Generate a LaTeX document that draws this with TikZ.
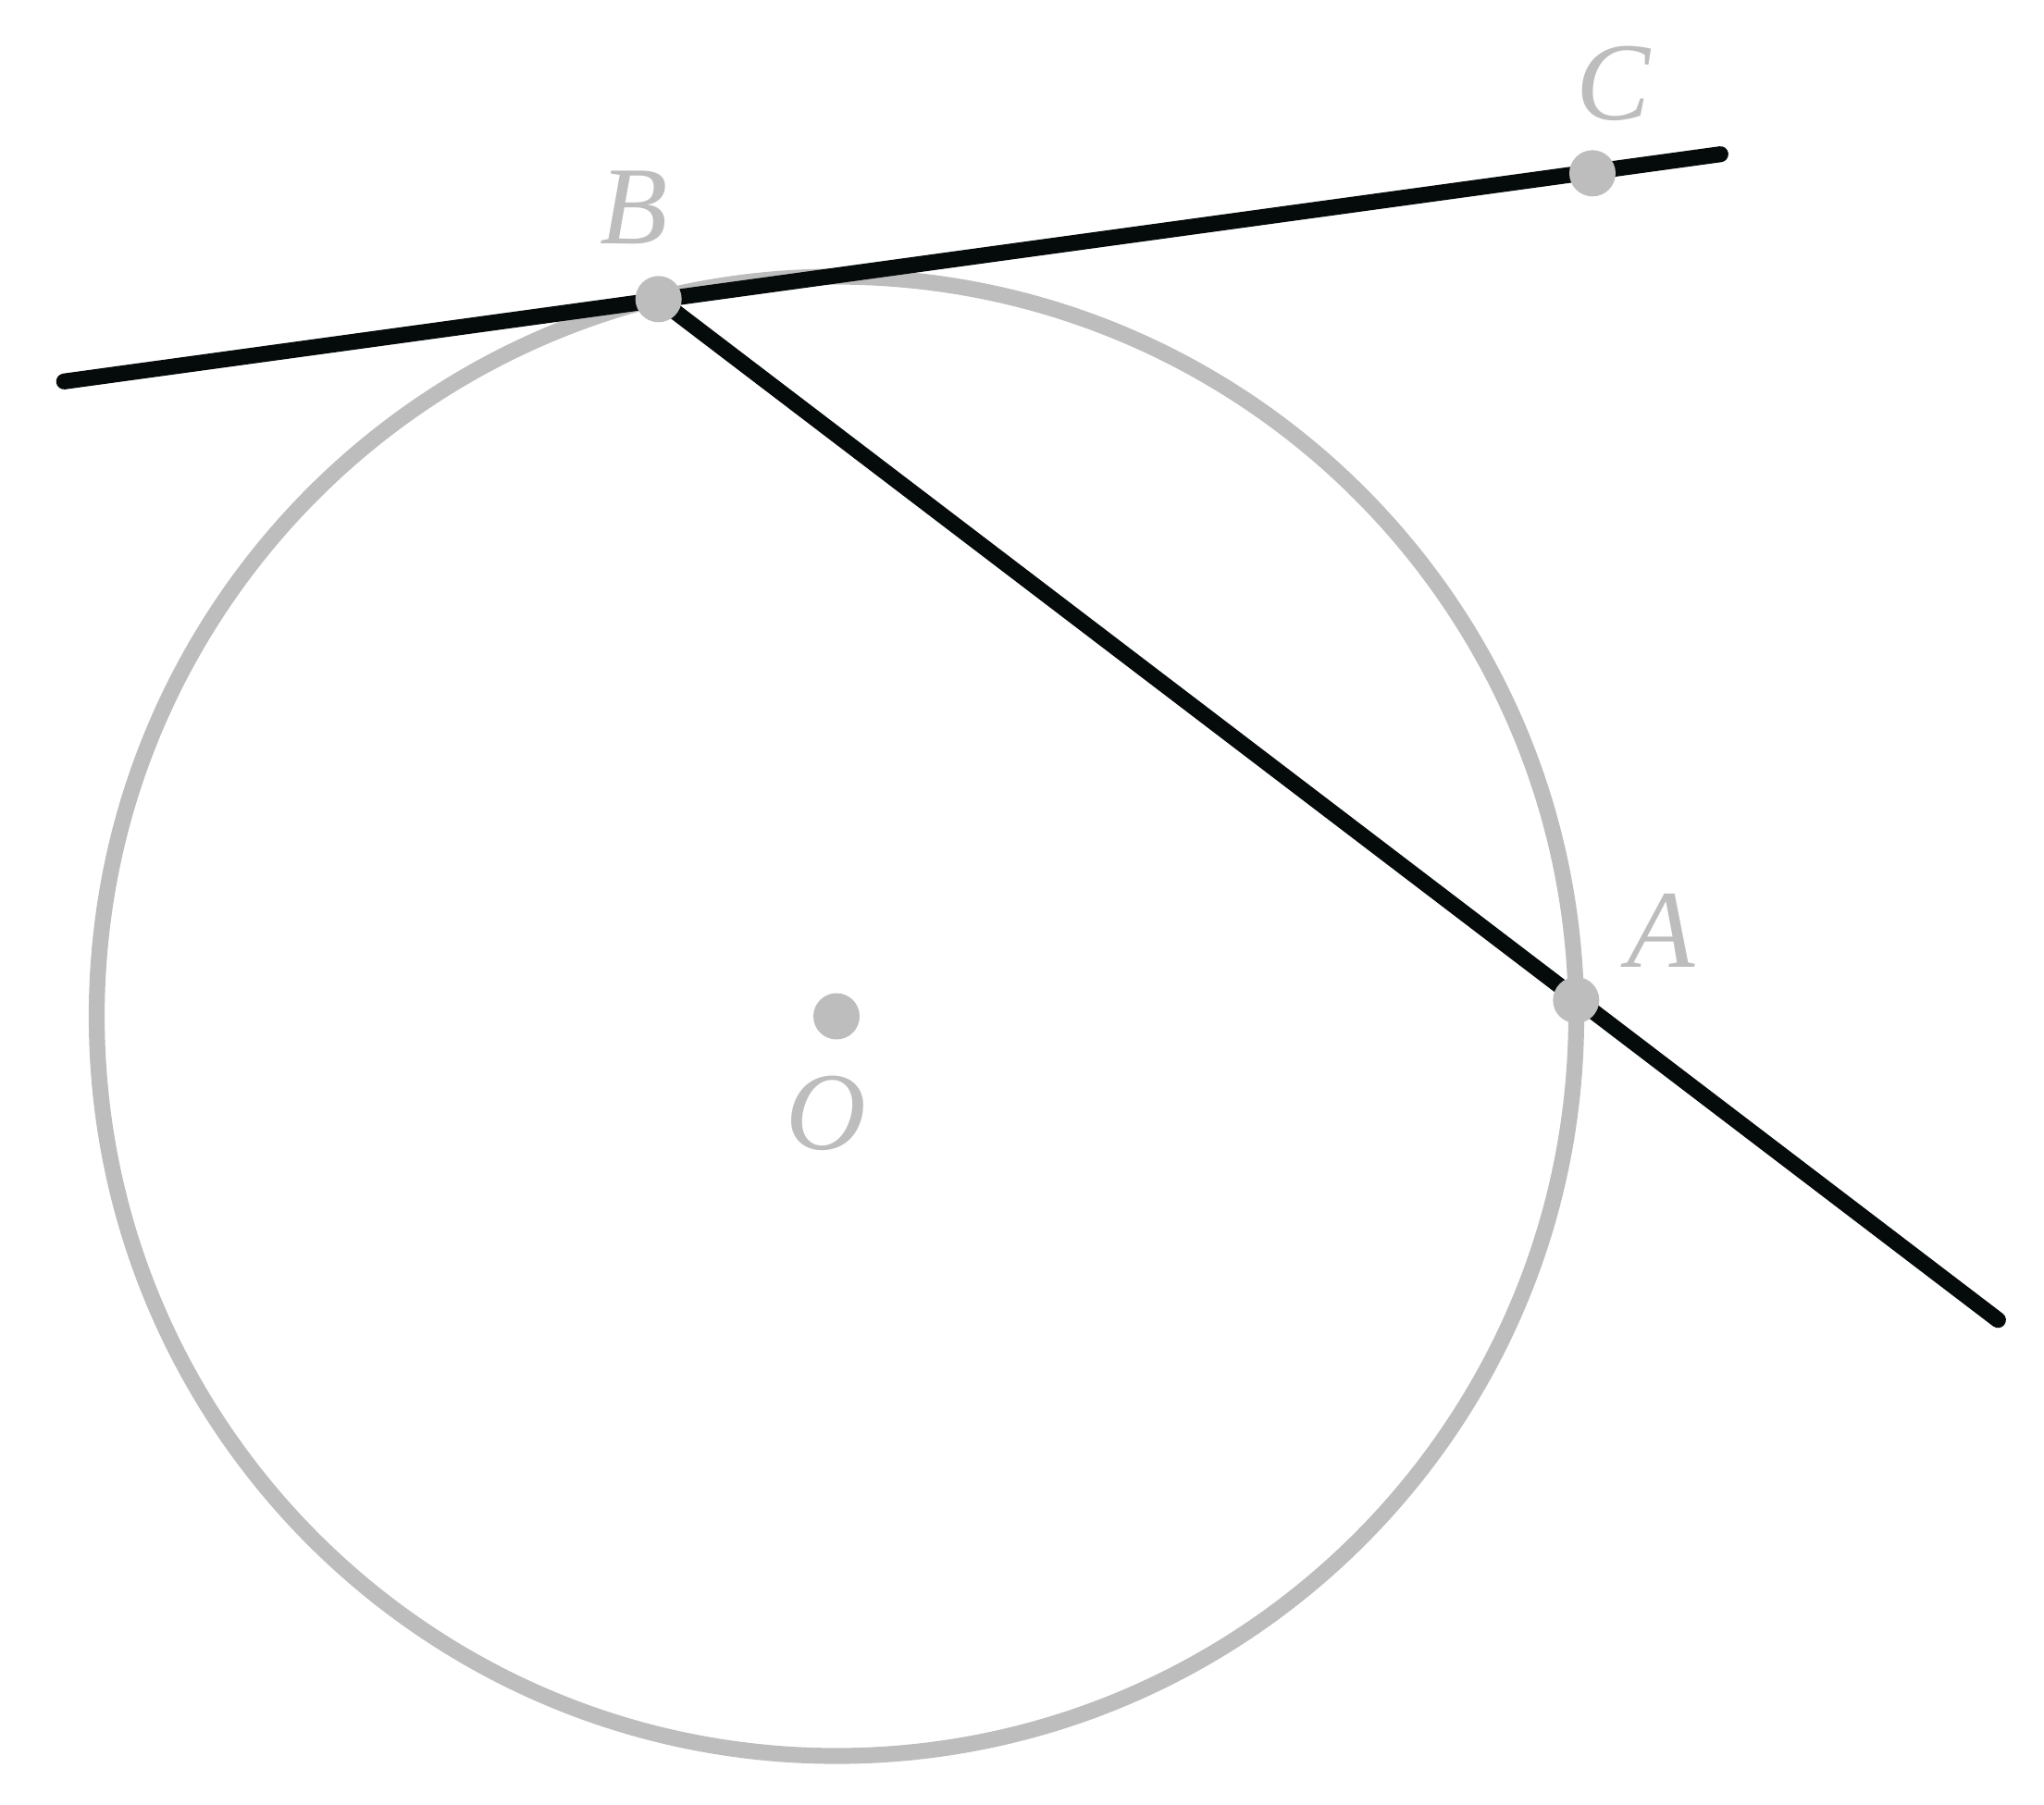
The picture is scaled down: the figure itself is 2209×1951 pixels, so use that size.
\documentclass[tikz,border=0pt]{standalone}
\usepackage{fontspec}
\setmainfont{Liberation Serif}
\usepackage{xcolor}
\definecolor{ptgray}{HTML}{BDBDBD}
\definecolor{linebk}{HTML}{050A0A}
\begin{document}
\begin{tikzpicture}[x=0.25pt,y=-0.25pt,
  dot/.style={circle,fill=ptgray,minimum size=12.5pt,inner sep=0pt},
  lbl/.style={text=ptgray,inner sep=0pt,font=\fontsize{30}{30}\selectfont\itshape},
  seg/.style={draw=linebk,line width=4.3pt,line cap=round},
  circ/.style={draw=ptgray,line width=4.3pt}]
\useasboundingbox (0,0) rectangle (2209,1951);
\coordinate (O) at (904,1098.5);
\coordinate (B) at (711.7,323.3);
\coordinate (A) at (1703.3,1081);
\coordinate (C) at (1721,187.3);
\coordinate (tL) at (69.3,412.3);
\coordinate (tR) at (1859.3,166.7);
\coordinate (bEnd) at (2159.3,1426.7);
\draw[circ] (O) circle[radius=799.5];
\draw[seg] (tL) -- (tR);
\draw[seg] (B) -- (bEnd);
\node[dot] (dO) at (O) {};
\node[dot] (dB) at (B) {};
\node[dot] (dA) at (A) {};
\node[dot] (dC) at (C) {};
\node[lbl] (lB) at (685,224) {B};
\node[lbl] (lC) at (1744,90) {C};
\node[lbl] (lA) at (1795,1006) {A};
\node[lbl] (lO) at (893,1203) {O};
\end{tikzpicture}
\end{document}
